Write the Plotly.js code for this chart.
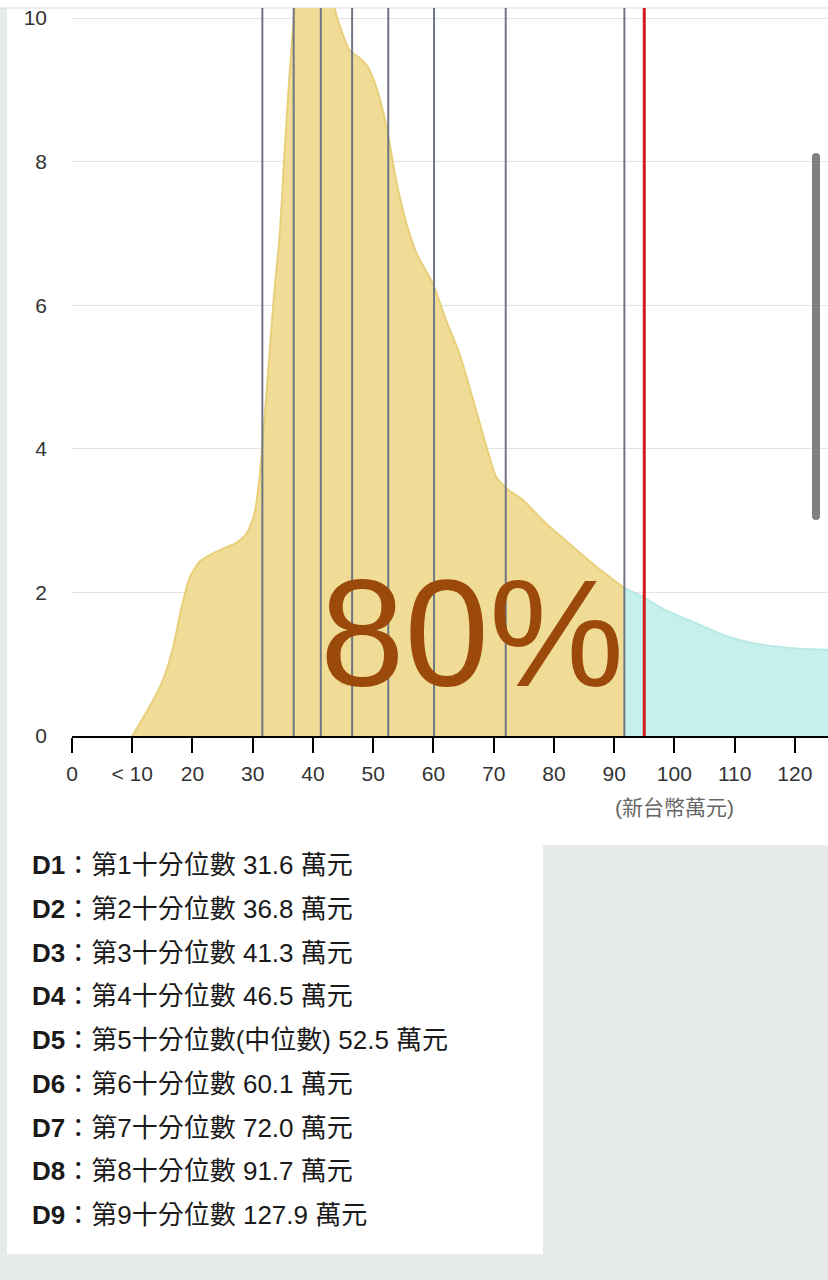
<!DOCTYPE html>
<html>
<head>
<meta charset="utf-8">
<script src="https://cdn.plot.ly/plotly-3.0.1.min.js"></script>
<style>
	body { margin: 0; background: #e7eaeb; }
	#chart { width: 828px; height: 1280px; }
</style>
</head>
<body>
<div id="chart"></div>
<script>
// income (萬元) and density
const income = [10, 12.9, 15.1, 16.8, 18.2, 19.6, 21.2, 22.9, 25.1, 27.3, 29.0, 30.3, 31.1, 31.6, 32.5, 33.5, 34.5, 35.3, 36.2, 37.0, 38.5, 40.5, 42.5, 43.6, 44.7, 46.1, 47.8, 49.1, 50.5, 52.2, 53.8, 55.5, 57.2, 59.9, 62.1, 64.3, 66.6, 68.8, 70.4, 72.1, 74.8, 78.7, 83.1, 87.0, 91.7, 94.7, 98.6, 103.6, 109.1, 114.6, 120.2, 125.4, 130]
const density = [0, 0.41, 0.78, 1.24, 1.80, 2.22, 2.43, 2.52, 2.61, 2.69, 2.82, 3.10, 3.57, 4.05, 5.0, 6.1, 7.0, 8.16, 9.32, 10.13, 10.9, 11.2, 10.9, 10.14, 9.83, 9.55, 9.44, 9.32, 9.04, 8.49, 7.74, 7.14, 6.72, 6.30, 5.79, 5.33, 4.68, 4.03, 3.61, 3.45, 3.29, 2.96, 2.64, 2.36, 2.06, 1.94, 1.75, 1.57, 1.38, 1.27, 1.22, 1.20, 1.18]
const deciles = [31.6, 36.8, 41.3, 46.5, 52.5, 60.1, 72.0, 91.7, 127.9]
const userIncome = 95
const xTickVals = [0, 10, 20, 30, 40, 50, 60, 70, 80, 90, 100, 110, 120]
const xTickText = ['0', '< 10', '20', '30', '40', '50', '60', '70', '80', '90', '100', '110', '120']
const yTickVals = [0, 2, 4, 6, 8, 10]
const shareLabel = '80%'
const unitLabel = '(新台幣萬元)'

const W = 828, H = 1280
const M = { l: 72, r: 0, t: 8, b: 544 }
const xMax = 125.5
// page pixels -> paper coords
const px = x => (x - M.l) / (W - M.l - M.r)
const py = y => (H - M.b - y) / (H - M.t - M.b)

const split = deciles[7]
const left = income.map((x, i) => [x, density[i]]).filter(([x]) => x <= split)
const right = income.map((x, i) => [x, density[i]]).filter(([x]) => x >= split)

const traces = [
	{
		x: left.map(p => p[0]), y: left.map(p => p[1]),
		type: 'scatter', mode: 'lines', fill: 'tozeroy',
		fillcolor: 'rgb(240,220,150)',
		line: { color: 'rgb(232,207,122)', width: 2, shape: 'spline', smoothing: 0.6 },
		hoverinfo: 'skip',
	},
	{
		x: right.map(p => p[0]), y: right.map(p => p[1]),
		type: 'scatter', mode: 'lines', fill: 'tozeroy',
		fillcolor: 'rgb(198,240,236)',
		line: { color: 'rgb(184,234,229)', width: 2, shape: 'spline', smoothing: 0.6 },
		hoverinfo: 'skip',
	},
]

const rect = (x0, y0, x1, y1, color) => ({
	type: 'rect', xref: 'paper', yref: 'paper', layer: 'below',
	x0: px(x0), x1: px(x1), y0: py(y0), y1: py(y1),
	fillcolor: color, line: { width: 0 },
})

// scroll indicator, rounded ends
const sb = { x0: 812, x1: 820, y0: 153, y1: 520, r: 4 }
const sbm = (sb.x0 + sb.x1) / 2
const sbPath = [
	`M${px(sb.x0)},${py(sb.y0 + sb.r)}`,
	`Q${px(sb.x0)},${py(sb.y0)} ${px(sbm)},${py(sb.y0)}`,
	`Q${px(sb.x1)},${py(sb.y0)} ${px(sb.x1)},${py(sb.y0 + sb.r)}`,
	`L${px(sb.x1)},${py(sb.y1 - sb.r)}`,
	`Q${px(sb.x1)},${py(sb.y1)} ${px(sbm)},${py(sb.y1)}`,
	`Q${px(sb.x0)},${py(sb.y1)} ${px(sb.x0)},${py(sb.y1 - sb.r)}`,
	'Z',
].join(' ')

const shapes = [
	rect(0, 0, 828, 8, '#ffffff'),
	rect(7, 8, 828, 845, '#ffffff'),
	rect(7, 845, 543, 1254, '#ffffff'),
	{
		type: 'line', xref: 'paper', yref: 'paper', layer: 'below',
		x0: px(0), x1: px(828), y0: py(8), y1: py(8),
		line: { color: '#dcdcdc', width: 1 },
	},
	...deciles.filter(d => d <= xMax).map(d => ({
		type: 'line', xref: 'x', yref: 'paper',
		x0: d, x1: d, y0: 0, y1: 1,
		line: { color: '#6f7784', width: 2 },
	})),
	{
		type: 'line', xref: 'x', yref: 'paper',
		x0: userIncome, x1: userIncome, y0: 0, y1: 1,
		line: { color: '#d21b1b', width: 3 },
	},
	{
		type: 'path', xref: 'paper', yref: 'paper', path: sbPath,
		fillcolor: '#808080', line: { width: 0 },
	},
]

const listFont = { family: 'Liberation Sans, Noto Sans CJK TC, sans-serif', size: 26, color: '#1a1a1a' }
const annotations = [
	{
		text: shareLabel, xref: 'paper', yref: 'paper',
		x: px(472), y: py(633), xanchor: 'center', yanchor: 'middle', showarrow: false,
		font: { family: 'Liberation Sans, Arial, sans-serif', size: 152, color: '#9b4a0c' },
	},
	{
		text: unitLabel, xref: 'x', yref: 'paper',
		x: 100, y: py(807), xanchor: 'center', yanchor: 'middle', showarrow: false,
		font: { family: 'Liberation Sans, Noto Sans CJK TC, sans-serif', size: 21, color: '#666' },
	},
	...deciles.map((v, i) => ({
		text: `<b>D${i + 1}</b>：第${i + 1}十分位數${i === 4 ? '(中位數)' : ''} ${v.toFixed(1)} 萬元`,
		xref: 'paper', yref: 'paper',
		x: px(30), y: py(865 + i * 43.75), xanchor: 'left', yanchor: 'middle', showarrow: false,
		font: listFont,
	})),
]

Plotly.newPlot('chart', traces, {
	width: W,
	height: H,
	margin: M,
	paper_bgcolor: '#e7eaeb',
	plot_bgcolor: '#ffffff',
	showlegend: false,
	font: { family: 'Liberation Sans, Noto Sans CJK TC, sans-serif', color: '#333' },
	xaxis: {
		range: [0, xMax],
		tickvals: xTickVals,
		ticktext: xTickText,
		ticks: 'outside',
		ticklen: 15,
		tickwidth: 2,
		tickcolor: '#000',
		showline: true,
		linecolor: '#000',
		linewidth: 2,
		showgrid: false,
		zeroline: false,
		ticklabelstandoff: 3,
		tickfont: { size: 21, color: '#333' },
	},
	yaxis: {
		range: [0, 10.14],
		tickvals: yTickVals,
		ticks: '',
		showgrid: true,
		gridcolor: '#e3e3e3',
		gridwidth: 1,
		zeroline: false,
		showline: false,
		ticklabelstandoff: 24,
		tickfont: { size: 21, color: '#333' },
	},
	shapes: shapes,
	annotations: annotations,
}, { staticPlot: true, displayModeBar: false })
</script>
</body>
</html>
